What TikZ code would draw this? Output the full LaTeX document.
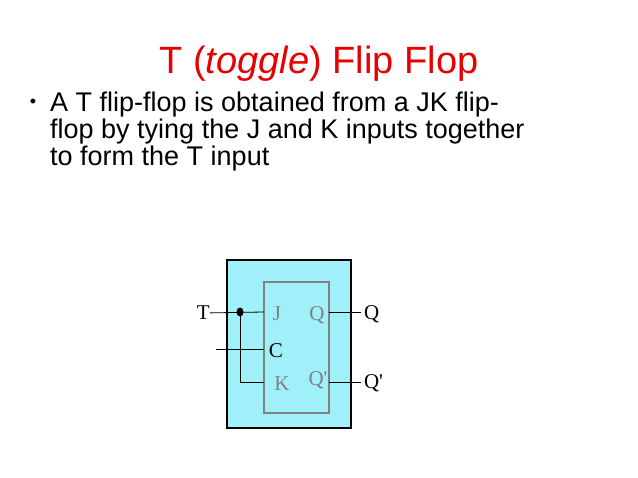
\documentclass[tikz,border=0pt]{standalone}
\usepackage{fontspec}
\setmainfont{Liberation Sans}
\newfontfamily\serif{Liberation Serif}
\begin{document}
\begin{tikzpicture}[x=1pt,y=-1pt,
  wire/.style={line width=0.8pt},
  lbl/.style={font=\serif\fontsize{21}{21}\selectfont,inner sep=0pt},
  glbl/.style={lbl,text=gray}]
\useasboundingbox (0,0) rectangle (638,478);
\definecolor{titlered}{RGB}{230,0,0}
\definecolor{cyanfill}{RGB}{160,240,250}
\node[text=titlered,font=\fontsize{38}{38}\selectfont] (title) at (319,64) {T (\textit{toggle}) Flip Flop};
\node[anchor=north west,align=left,font=\fontsize{27}{27}\selectfont,inner sep=0pt] (txt) at (50,92)
 {A T flip-flop is obtained from a JK flip-\\flop by tying the J and K inputs together\\to form the T input};
\node[font=\fontsize{18}{18}\selectfont,inner sep=0pt] (bul) at (33,103) {•};
\draw[line width=1.5pt,fill=cyanfill] (227,260) rectangle (351,428);
\draw[line width=2.5pt,draw=gray] (264,282) rectangle (329,413);
\coordinate (ij) at (264,312);
\coordinate (ic) at (264,349);
\coordinate (ik) at (264,382);
\coordinate (oq) at (329,312);
\coordinate (oqn) at (329,382);
\coordinate (dot) at (240,312);
\node[lbl,anchor=east] (T) at (210,313) {T};
\node[lbl,anchor=west,outer sep=3pt] (Q) at (361,314) {Q};
\node[lbl,anchor=west,outer sep=3pt] (Qn) at (361,383) {Q'};
\coordinate (cin) at (216,349);
\draw[wire] (T) -- (ij);
\draw[wire] (dot) |- (ik);
\draw[wire] (cin) -- (ic);
\draw[wire] (oq) -- (oq -| Q.west);
\draw[wire] (oqn) -- (oqn -| Qn.west);
\fill (dot) ellipse (3.5 and 4.5);
\node[glbl] (J) at (277,314) {J};
\node[lbl] (C) at (276,351) {C};
\node[glbl] (K) at (282,384) {K};
\node[glbl] (QQ) at (317,315) {Q};
\node[glbl] (QQn) at (318,380) {Q'};
\end{tikzpicture}
\end{document}
